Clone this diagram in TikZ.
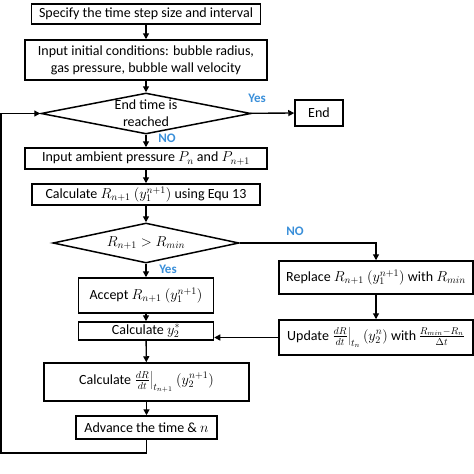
\documentclass[tikz,border=0pt]{standalone}
\usepackage{fontspec}
\setmainfont{Carlito}
\usetikzlibrary{shapes.geometric,arrows.meta}
\definecolor{ansblue}{HTML}{3A8FD9}
\begin{document}
\begin{tikzpicture}[x=1pt, y=-1pt, font=\fontsize{14}{17}\selectfont, >={Triangle[length=6pt,width=6pt]},
      line width=1.3pt,
      box/.style={draw, line width=1.5pt, align=center, inner sep=0pt},
      decision/.style={draw, diamond, line width=1.5pt, inner sep=0pt},
      ans/.style={text=ansblue, font=\fontsize{13}{15}\selectfont\bfseries}]
    \useasboundingbox (0,0) rectangle (474,474);
    % main column
    \node[box, minimum width=229pt, minimum height=20pt] (spec) at (146,14)
      {Specify the time step size and interval};
    \node[box, minimum width=242pt, minimum height=40pt] (init) at (146,60)
      {Input initial conditions: bubble radius,\\gas pressure, bubble wall velocity};
    \node[decision, minimum width=210pt, minimum height=41pt] (endq) at (146,113.5) {};
    \node[align=center, inner sep=0pt] (endtxt) at (endq.center)
      {End time is\\reached};
    \node[box, minimum width=48pt, minimum height=26pt] (stop) at (319,113) {End};
    \node[box, minimum width=242pt, minimum height=21pt] (amb) at (146,158.5)
      {Input ambient pressure $P_n$ and $P_{n+1}$};
    \node[box, minimum width=228pt, minimum height=21pt] (calcR) at (146,194.5)
      {Calculate $R_{n+1}$ $(y_1^{n+1})$ using Equ 13};
    \node[decision, minimum width=186pt, minimum height=40pt] (minq) at (146,243) {};
    \node[inner sep=0pt] (mintxt) at (minq.center) {$R_{n+1} > R_{min}$};
    \node[box, minimum width=135pt, minimum height=35pt] (accept) at (146,295.5)
      {Accept $R_{n+1}$ $(y_1^{n+1})$};
    \node[box, minimum width=135pt, minimum height=18pt] (ystar) at (146,331)
      {Calculate $y_2^*$};
    \node[box, minimum width=205pt, minimum height=38pt] (calcV) at (146.5,382)
      {Calculate\,$\left.\frac{dR}{dt}\right|_{t_{n+1}}$ $(y_2^{n+1})$};
    \node[box, minimum width=141pt, minimum height=23pt] (adv) at (146.5,427.5)
      {Advance the time \& $n$};
    % right column
    \node[box, minimum width=194pt, minimum height=33pt] (repl) at (376,277.5)
      {Replace $R_{n+1}$ $(y_1^{n+1})$ with $R_{min}$};
    \node[box, minimum width=194pt, minimum height=35pt] (upd) at (376,337.5)
      {Update\,$\left.\frac{dR}{dt}\right|_{t_n}$\,$(y_2^n)$ with\,$\frac{R_{min}-R_n}{\Delta t}$};
    % answer labels
    \node[ans] (yes1) at (257,98) {Yes};
    \node[ans] (no1) at (167,138.5) {NO};
    \node[ans] (no2) at (295,231) {NO};
    \node[ans] (yes2) at (168,269) {Yes};
    % loop corners
    \coordinate (lpA) at (146.5,453);
    \coordinate (lpB) at (1,453);
    \coordinate (lpC) at (1,113.5);
    % arrows
    \draw[->] (spec) -- (init);
    \draw[->] (init) -- (endq);
    \draw[->] (endq) -- (stop);
    \draw[->] (endq) -- (amb);
    \draw[->] (amb) -- (calcR);
    \draw[->] (calcR) -- (minq);
    \draw[->] (minq) -- (accept);
    \draw[->] (minq.east) -| (repl.north);
    \draw[->] (accept) -- (ystar);
    \draw[->] (repl) -- (upd);
    \draw[->] (upd.west) -- (upd.west -| ystar.east);
    \draw[->] (ystar) -- (calcV);
    \draw[->] (calcV) -- (adv);
    \draw[->] (adv.south) -- (lpA) -- (lpB) -- (lpC) -- (endq.west);
  \end{tikzpicture}
\end{document}
